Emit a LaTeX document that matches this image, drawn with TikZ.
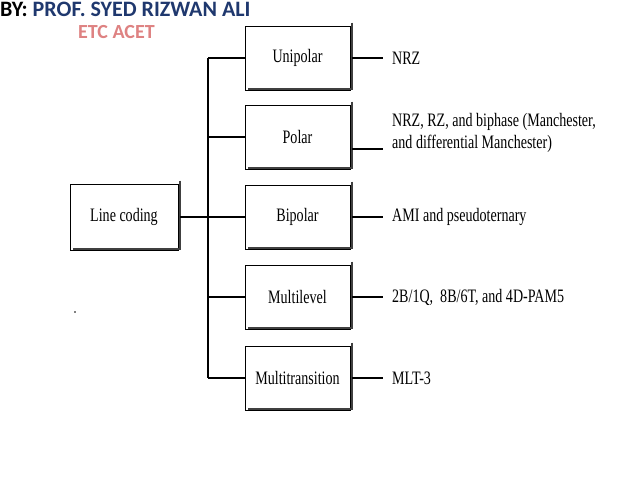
\documentclass[tikz,border=0pt]{standalone}
\usepackage{fontspec}
\setmainfont{Liberation Serif}[FakeStretch=0.74]
\newfontfamily\hdr{Carlito}
\definecolor{navy}{RGB}{31,56,110}
\definecolor{pinkish}{RGB}{222,130,130}
\begin{document}
\begin{tikzpicture}[x=1pt,y=-1pt,
  box/.style={draw,line width=0.9pt,minimum width=105pt,minimum height=64pt,inner sep=0pt,font=\fontsize{19}{21}\selectfont},
  shadow/.style={draw=black!75,line width=2.2pt},
  lbl/.style={anchor=west,font=\fontsize{19}{22}\selectfont,inner sep=0pt,align=left},
  ln/.style={line width=1.2pt}]
\useasboundingbox (0,0) rectangle (638,478);
\node[anchor=north west,inner sep=0pt,font=\hdr\bfseries\fontsize{22}{24}\selectfont] (h1) at (0,2) {BY: \textcolor{navy}{PROF. SYED RIZWAN ALI}};
\node[anchor=north west,inner sep=0pt,font=\hdr\bfseries\fontsize{20}{22}\selectfont,text=pinkish] (h2) at (78,25) {ETC ACET};
\node[box,minimum width=108pt,minimum height=66pt] (lc) at (124,217) {Line coding};
\node[box] (b1) at (297.5,58) {Unipolar};
\node[box] (b2) at (297.5,137) {Polar};
\node[box] (b3) at (297.5,217) {Bipolar};
\node[box] (b4) at (297.5,297) {Multilevel};
\node[box] (b5) at (297.5,378) {Multitransition};
\foreach \n in {lc,b1,b2,b3,b4,b5}{
  \draw[shadow] ([xshift=1.5pt,yshift=3pt]\n.north east) -- ([xshift=1.5pt,yshift=1.5pt]\n.south east) -- ([xshift=3pt,yshift=1.5pt]\n.south west);
}
\coordinate (top) at (208,58);
\coordinate (bot) at (208,378);
\coordinate (mid) at (208,217);
\draw[ln] (top) -- (bot);
\draw[ln] ([xshift=2pt]lc.east) -- (b3.west);
\foreach \i in {1,2,4,5}{\draw[ln] (b\i.west -| mid) -- (b\i.west);}
\foreach \i in {1,3,4,5}{\coordinate (e\i) at ([xshift=33pt]b\i.east); \draw[ln] ([xshift=2pt]b\i.east) -- (e\i);}
\coordinate (e2) at ([xshift=33pt,yshift=-12pt]b2.east);
\draw[ln] ([xshift=2pt,yshift=-12pt]b2.east) -- (e2);
\node[lbl] (t1) at (392,58) {NRZ};
\node[lbl,anchor=north west] (t2) at (392,113) {NRZ, RZ, and biphase (Manchester,\\and differential Manchester)};
\node[lbl] (t3) at (392,217) {AMI and pseudoternary};
\node[lbl] (t4) at (392,297) {2B/1Q,\ \ 8B/6T, and 4D-PAM5};
\node[lbl] (t5) at (392,378) {MLT-3};
\fill (75,312) circle (0.8);
\end{tikzpicture}
\end{document}
